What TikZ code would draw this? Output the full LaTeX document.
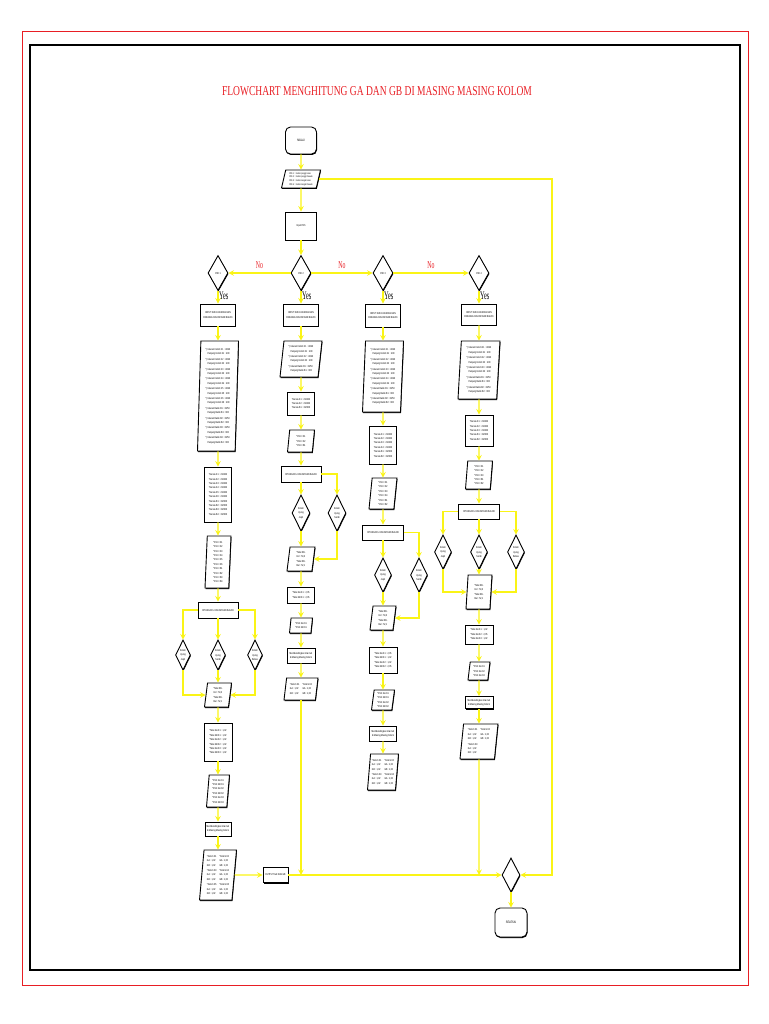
\documentclass[tikz,border=0pt]{standalone}
\usepackage{fontspec}
\usetikzlibrary{shapes.geometric, shadows}

\definecolor{Kuning}{RGB}{250, 244, 22}
\definecolor{Merah}{RGB}{232, 30, 36}

\newfontfamily\hurufjudul[FakeStretch=0.7]{Liberation Serif}
\newfontfamily\huruflabel[FakeStretch=0.55]{Liberation Serif}
\newfontfamily\hurufisi[FakeStretch=0.72]{Liberation Sans}
\newcommand{\isikecil}{\hurufisi\fontsize{2.8}{4.4}\selectfont}

% isi teks yang berulang
\newcommand{\ukuran}[3]{*) Ukuran #1 : #2\\\hspace*{2pt}Panjang #1 : #3}
\newcommand{\inersia}[2]{*Inersia #1 : #2}
\newcommand{\cetakI}[1]{*Print I #1}
\newcommand{\eil}[2]{*Nilai EI/L\\#1 : #2}
\newcommand{\nilaiG}[2]{*Nilai #1 : #2}
\newcommand{\cetakG}[1]{*Print #1}
\newcommand{\hasil}[2]{*Kolom #1 & *Kolom #2\\GA : 1,02 & GA : 1,02\\GB : 1,02 & GB : 1,02}
\newcommand{\hasilsatu}[1]{*Kolom #1 & \\GA : 1,02 & \\GB : 1,02 &}

\begin{document}
\begin{tikzpicture}[x=1pt, y=-1pt,
    io/.style={trapezium, trapezium left angle=#1, trapezium right angle={180-#1}, trapezium stretches body, draw=black, fill=white, line width=0.9pt, font=\isikecil, align=left, inner sep=0.8pt, bayangan}]
    \tikzstyle{bayangan} = [drop shadow={shadow xshift=0.5pt, shadow yshift=-1pt, opacity=1, fill=black}]
    \tikzstyle{terminal} = [rectangle, rounded corners=5pt, draw=black, fill=white, line width=0.9pt, font=\hurufisi\fontsize{3.4}{4}\selectfont, minimum width=31pt, minimum height=27pt, bayangan]
    \tikzstyle{proses} = [rectangle, draw=black, fill=white, line width=0.9pt, font=\isikecil, align=left, inner sep=0.8pt, bayangan]
    \tikzstyle{keputusan} = [diamond, aspect=0.5, draw=black, fill=white, line width=0.9pt, font=\isikecil, align=center, inner sep=0pt, bayangan]
    \tikzstyle{alur} = [->, >=stealth, line width=1.4pt, Kuning]
    \tikzstyle{tidak} = [above=4pt, text=Merah, font=\huruflabel\fontsize{10.5}{11}\selectfont, inner sep=0pt]
    \tikzstyle{ya} = [right=0pt, pos=0.35, text=black, font=\huruflabel\fontsize{11.5}{12}\selectfont, inner sep=0.5pt]

    \useasboundingbox (0,0) rectangle (768,1024);
    \draw [Merah, line width=1pt] (22,32) rectangle (748,985);
    \draw [black, line width=1.2pt] (30,45) rectangle (740,970);

    % Judul
    \node (judul) [text=Merah, font=\hurufjudul\fontsize{13.6}{14}\selectfont] at (377,91) {FLOWCHART MENGHITUNG GA DAN GB DI MASING MASING KOLOM};

    % Bagian atas
    \node (mulai) [terminal] at (301,140.5) {MULAI};
    \node (pilihan) [io=74, minimum width=39pt, minimum height=18pt, font=\hurufisi\fontsize{2.5}{3.6}\selectfont] at (301,179) {Pilih 1 : Kolom pinggir atas\\Pilih 2 : Kolom pinggir bawah\\Pilih 3 : Kolom tengah atas\\Pilih 4 : Kolom tengah bawah};
    \node (masukan) [proses, minimum width=31pt, minimum height=28pt, align=center] at (301,226) {Input Pilih};
    \coordinate (kanan) at (552,875);

    % Keputusan pilihan
    \node (p1) [keputusan, minimum width=20pt, minimum height=35pt] at (218,273) {Pilih 1};
    \node (p2) [keputusan, minimum width=20pt, minimum height=35pt] at (301,273) {Pilih 2};
    \node (p3) [keputusan, minimum width=20pt, minimum height=35pt] at (383,273) {Pilih 3};
    \node (p4) [keputusan, minimum width=20pt, minimum height=35pt] at (479,273) {Pilih 4};

    % Kolom 1
    \node (a1) [proses, minimum width=35pt, minimum height=22pt, align=center] at (218,315) {INPUT DATA UKURAN DAN\\PANJANG KOLOM DAN BALOK};
    \node (a2) [io=88, minimum width=41pt, minimum height=110pt] at (218,396) {\ukuran{Kolom K1}{40/40}{400}\\[1pt]\ukuran{Kolom K2}{40/40}{400}\\[1pt]\ukuran{Kolom K3}{40/40}{400}\\[1pt]\ukuran{Kolom K4}{40/40}{400}\\[1pt]\ukuran{Kolom K5}{40/40}{400}\\[1pt]\ukuran{Kolom K6}{40/40}{400}\\[1pt]\ukuran{Balok B1}{30/50}{600}\\[1pt]\ukuran{Balok B2}{30/50}{600}\\[1pt]\ukuran{Balok B3}{30/50}{600}\\[1pt]\ukuran{Balok B4}{30/50}{600}};
    \node (a3) [proses, minimum width=27pt, minimum height=55pt] at (218,494.5) {\inersia{K1}{213333}\\\inersia{K2}{213333}\\\inersia{K3}{213333}\\\inersia{K4}{213333}\\\inersia{K5}{213333}\\\inersia{K6}{213333}\\\inersia{B1}{312500}\\\inersia{B2}{312500}\\\inersia{B3}{312500}\\\inersia{B4}{312500}};
    \node (a4) [io=87, minimum width=26pt, minimum height=52pt] at (218,562) {\cetakI{K1}\\\cetakI{K2}\\\cetakI{K3}\\\cetakI{K4}\\\cetakI{K5}\\\cetakI{K6}\\\cetakI{B1}\\\cetakI{B2}\\\cetakI{B3}\\\cetakI{B4}};
    \node (a5) [proses, minimum width=40pt, minimum height=16pt, align=center] at (218,610) {HITUNG EI/L KOLOM DAN BALOK};
    \node (ka1) [keputusan, minimum width=15pt, minimum height=30pt] at (183,655) {Kolom\\Ujung\\Jepit};
    \node (ka2) [keputusan, minimum width=15pt, minimum height=30pt] at (218,655) {Kolom\\Ujung\\Sendi};
    \node (ka3) [keputusan, minimum width=15pt, minimum height=30pt] at (255,655) {Kolom\\Ujung\\Bebas};
    \node (a6) [io=80, minimum width=27pt, minimum height=24pt] at (218,695) {\eil{Kol}{53,3}\\\eil{Bal}{52,1}};
    \node (a7) [proses, minimum width=28pt, minimum height=38pt] at (218,742) {\nilaiG{GA K1}{1,02}\\\nilaiG{GB K1}{1,02}\\\nilaiG{GA K2}{1,02}\\\nilaiG{GB K2}{1,02}\\\nilaiG{GA K3}{1,02}\\\nilaiG{GB K3}{1,02}};
    \node (a8) [io=84, minimum width=23pt, minimum height=32pt] at (218,791) {\cetakG{GA K1}\\\cetakG{GB K1}\\\cetakG{GA K2}\\\cetakG{GB K2}\\\cetakG{GA K3}\\\cetakG{GB K3}};
    \node (a9) [proses, minimum width=26pt, minimum height=14pt, align=center] at (218,829) {Membandingkan nilai GA\\di Masing Masing Kolom};
    \node (a10) [io=84, minimum width=37pt, minimum height=50pt] at (218,875) {\begin{tabular}{@{}l@{\hspace{3pt}}l@{}}\hasil{K1}{K2}\\[1pt]\hasil{K3}{K4}\\[1pt]\hasil{K5}{K6}\end{tabular}};
    \node (keluaran) [proses, minimum width=25pt, minimum height=15pt, align=center] at (275.5,875) {OUTPUT GA DAN GB};

    % Kolom 2
    \node (b1) [proses, minimum width=35pt, minimum height=22pt, align=center] at (301,315) {INPUT DATA UKURAN DAN\\PANJANG KOLOM DAN BALOK};
    \node (b2) [io=82, minimum width=42pt, minimum height=36pt] at (301,359) {\ukuran{Kolom K1}{40/40}{400}\\[1pt]\ukuran{Kolom K2}{40/40}{400}\\[1pt]\ukuran{Balok B1}{30/50}{600}};
    \node (b3) [proses, minimum width=27pt, minimum height=23pt] at (301,403.5) {\inersia{K1}{213333}\\\inersia{K2}{213333}\\\inersia{B1}{312500}};
    \node (b4) [io=80, minimum width=27pt, minimum height=22pt] at (301,441) {\cetakI{K1}\\\cetakI{K2}\\\cetakI{B1}};
    \node (b5) [proses, minimum width=40pt, minimum height=16pt, align=center] at (301,474) {HITUNG EI/L KOLOM DAN BALOK};
    \node (kb1) [keputusan, minimum width=18pt, minimum height=36pt] at (301,513) {Kolom\\Ujung\\Jepit};
    \node (kb2) [keputusan, minimum width=18pt, minimum height=36pt] at (337,513) {Kolom\\Ujung\\Sendi};
    \node (b6) [io=80, minimum width=28pt, minimum height=24pt] at (301,559) {\eil{Kol}{53,3}\\\eil{Bal}{52,1}};
    \node (b7) [proses, minimum width=27pt, minimum height=16pt] at (301,595) {\nilaiG{GA K1}{2,05}\\\nilaiG{GB K1}{2,05}};
    \node (b8) [io=79, minimum width=23pt, minimum height=15pt] at (301,625.5) {\cetakG{GA K1}\\\cetakG{GB K1}};
    \node (b9) [proses, minimum width=28pt, minimum height=15pt, align=center] at (301,655.5) {Membandingkan nilai GA\\di Masing Masing Kolom};
    \node (b10) [io=80, minimum width=34pt, minimum height=22pt] at (301,689) {\begin{tabular}{@{}l@{\hspace{3pt}}l@{}}\hasil{K1}{K2}\end{tabular}};
    \coordinate (jb) at (301,875);

    % Kolom 3
    \node (c1) [proses, minimum width=35pt, minimum height=23pt, align=center] at (383,315.5) {INPUT DATA UKURAN DAN\\PANJANG KOLOM DAN BALOK};
    \node (c2) [io=87, minimum width=41pt, minimum height=71pt] at (383,376.5) {\ukuran{Kolom K1}{40/40}{400}\\[1pt]\ukuran{Kolom K2}{40/40}{400}\\[1pt]\ukuran{Kolom K3}{40/40}{400}\\[1pt]\ukuran{Kolom K4}{40/40}{400}\\[1pt]\ukuran{Balok B1}{30/50}{600}\\[1pt]\ukuran{Balok B2}{30/50}{600}};
    \node (c3) [proses, minimum width=27pt, minimum height=38pt] at (383,445) {\inersia{K1}{213333}\\\inersia{K2}{213333}\\\inersia{K3}{213333}\\\inersia{K4}{213333}\\\inersia{B1}{312500}\\\inersia{B2}{312500}};
    \node (c4) [io=83, minimum width=28pt, minimum height=31pt] at (383,493.5) {\cetakI{K1}\\\cetakI{K2}\\\cetakI{K3}\\\cetakI{K4}\\\cetakI{B1}\\\cetakI{B2}};
    \node (c5) [proses, minimum width=41pt, minimum height=15pt, align=center] at (383,532.5) {HITUNG EI/L KOLOM DAN BALOK};
    \node (kc1) [keputusan, minimum width=17pt, minimum height=34pt] at (383,575) {Kolom\\Ujung\\Jepit};
    \node (kc2) [keputusan, minimum width=17pt, minimum height=34pt] at (419,575) {Kolom\\Ujung\\Sendi};
    \node (c6) [io=80, minimum width=26pt, minimum height=24pt] at (383,618) {\eil{Kol}{53,3}\\\eil{Bal}{52,1}};
    \node (c7) [proses, minimum width=28pt, minimum height=26pt] at (383,660) {\nilaiG{GA K1}{2,05}\\\nilaiG{GB K1}{1,02}\\\nilaiG{GA K2}{1,02}\\\nilaiG{GB K2}{2,05}};
    \node (c8) [io=81, minimum width=23pt, minimum height=20pt] at (383,700) {\cetakG{GA K1}\\\cetakG{GB K1}\\\cetakG{GA K2}\\\cetakG{GB K2}};
    \node (c9) [proses, minimum width=27pt, minimum height=15pt, align=center] at (383,733.5) {Membandingkan nilai GA\\di Masing Masing Kolom};
    \node (c10) [io=84, minimum width=31pt, minimum height=36pt] at (383,772) {\begin{tabular}{@{}l@{\hspace{3pt}}l@{}}\hasil{K1}{K2}\\[1pt]\hasil{K3}{K4}\end{tabular}};

    % Kolom 4
    \node (d1) [proses, minimum width=35pt, minimum height=21pt, align=center] at (479,314.5) {INPUT DATA UKURAN DAN\\PANJANG KOLOM DAN BALOK};
    \node (d2) [io=86, minimum width=42pt, minimum height=58pt] at (479,370) {\ukuran{Kolom K1}{40/40}{400}\\[1pt]\ukuran{Kolom K2}{40/40}{400}\\[1pt]\ukuran{Kolom K3}{40/40}{400}\\[1pt]\ukuran{Balok B1}{30/50}{600}\\[1pt]\ukuran{Balok B2}{30/50}{600}};
    \node (d3) [proses, minimum width=28pt, minimum height=31pt] at (479,430.5) {\inersia{K1}{213333}\\\inersia{K2}{213333}\\\inersia{K3}{213333}\\\inersia{B1}{312500}\\\inersia{B2}{312500}};
    \node (d4) [io=84, minimum width=27pt, minimum height=28pt] at (479,475) {\cetakI{K1}\\\cetakI{K2}\\\cetakI{K3}\\\cetakI{B1}\\\cetakI{B2}};
    \node (d5) [proses, minimum width=41pt, minimum height=15pt, align=center] at (479,511.5) {HITUNG EI/L KOLOM DAN BALOK};
    \node (kd1) [keputusan, minimum width=17pt, minimum height=34pt] at (443,552) {Kolom\\Ujung\\Jepit};
    \node (kd2) [keputusan, minimum width=17pt, minimum height=34pt] at (479,552) {Kolom\\Ujung\\Sendi};
    \node (kd3) [keputusan, minimum width=17pt, minimum height=34pt] at (516,552) {Kolom\\Ujung\\Bebas};
    \node (d6) [io=83, minimum width=26pt, minimum height=34pt] at (479,592) {\eil{Kol}{53,3}\\\eil{Bal}{52,1}};
    \node (d7) [proses, minimum width=28pt, minimum height=19pt] at (479,634.5) {\nilaiG{GA K1}{1,02}\\\nilaiG{GA K2}{2,05}\\\nilaiG{GA K3}{1,02}};
    \node (d8) [io=80, minimum width=22pt, minimum height=18pt] at (479,671) {\cetakG{GA K1}\\\cetakG{GA K2}\\\cetakG{GA K3}};
    \node (d9) [proses, minimum width=28pt, minimum height=12pt, align=center] at (479,702.5) {Membandingkan nilai GA\\di Masing Masing Kolom};
    \node (d10) [io=83, minimum width=38pt, minimum height=35pt] at (479,741.5) {\begin{tabular}{@{}l@{\hspace{3pt}}l@{}}\hasil{K1}{K2}\\[1pt]\hasilsatu{K3}\end{tabular}};
    \coordinate (jd) at (479,875);

    % Akhir
    \node (akhir) [keputusan, minimum width=18pt, minimum height=34pt] at (511,875) {};
    \node (selesai) [terminal, minimum width=32pt, minimum height=29pt] at (511,922.5) {SELESAI};

    % Arrows atas
    \draw [alur] (mulai) -- (pilihan);
    \draw [alur] (pilihan) -- (masukan);
    \draw [alur] (masukan) -- (p2);
    \draw [alur] (pilihan.east) -| (kanan) -- (akhir);
    \draw [alur] (p2) -- node[tidak] {No} (p1);
    \draw [alur] (p2) -- node[tidak] {No} (p3);
    \draw [alur] (p3) -- node[tidak] {No} (p4);
    \draw [alur] (p1) -- node[ya] {Yes} (a1);
    \draw [alur] (p2) -- node[ya] {Yes} (b1);
    \draw [alur] (p3) -- node[ya] {Yes} (c1);
    \draw [alur] (p4) -- node[ya] {Yes} (d1);

    % Arrows kolom 1
    \draw [alur] (a1) -- (a2);
    \draw [alur] (a2) -- (a3);
    \draw [alur] (a3) -- (a4);
    \draw [alur] (a4) -- (a5);
    \draw [alur] (a5.west) -| (ka1.north);
    \draw [alur] (a5) -- (ka2);
    \draw [alur] (a5.east) -| (ka3.north);
    \draw [alur] (ka1.south) |- (a6.west);
    \draw [alur] (ka2) -- (a6);
    \draw [alur] (ka3.south) |- (a6.east);
    \draw [alur] (a6) -- (a7);
    \draw [alur] (a7) -- (a8);
    \draw [alur] (a8) -- (a9);
    \draw [alur] (a9) -- (a10);
    \draw [alur] (a10) -- (keluaran);
    \draw [alur] (keluaran) -- (akhir);

    % Arrows kolom 2
    \draw [alur] (b1) -- (b2);
    \draw [alur] (b2) -- (b3);
    \draw [alur] (b3) -- (b4);
    \draw [alur] (b4) -- (b5);
    \draw [alur] (b5) -- (kb1);
    \draw [alur] (b5.east) -| (kb2.north);
    \draw [alur] (kb1) -- (b6);
    \draw [alur] (kb2.south) |- (b6.east);
    \draw [alur] (b6) -- (b7);
    \draw [alur] (b7) -- (b8);
    \draw [alur] (b8) -- (b9);
    \draw [alur] (b9) -- (b10);
    \draw [alur] (b10) -- (jb);

    % Arrows kolom 3
    \draw [alur] (c1) -- (c2);
    \draw [alur] (c2) -- (c3);
    \draw [alur] (c3) -- (c4);
    \draw [alur] (c4) -- (c5);
    \draw [alur] (c5) -- (kc1);
    \draw [alur] (c5.east) -| (kc2.north);
    \draw [alur] (kc1) -- (c6);
    \draw [alur] (kc2.south) |- (c6.east);
    \draw [alur] (c6) -- (c7);
    \draw [alur] (c7) -- (c8);
    \draw [alur] (c8) -- (c9);
    \draw [alur] (c9) -- (c10);

    % Arrows kolom 4
    \draw [alur] (d1) -- (d2);
    \draw [alur] (d2) -- (d3);
    \draw [alur] (d3) -- (d4);
    \draw [alur] (d4) -- (d5);
    \draw [alur] (d5.west) -| (kd1.north);
    \draw [alur] (d5) -- (kd2);
    \draw [alur] (d5.east) -| (kd3.north);
    \draw [alur] (kd1.south) |- (d6.west);
    \draw [alur] (kd2) -- (d6);
    \draw [alur] (kd3.south) |- (d6.east);
    \draw [alur] (d6) -- (d7);
    \draw [alur] (d7) -- (d8);
    \draw [alur] (d8) -- (d9);
    \draw [alur] (d9) -- (d10);
    \draw [alur] (d10) -- (jd);
    \draw [alur] (akhir) -- (selesai);
\end{tikzpicture}
\end{document}
